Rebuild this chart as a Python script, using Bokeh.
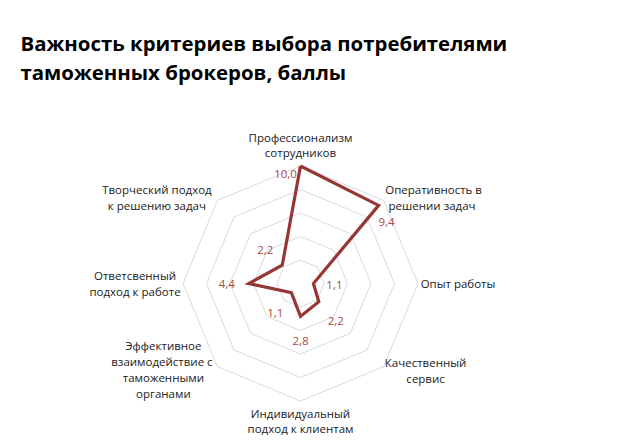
import math
from bokeh.plotting import figure
from bokeh.models import Range1d, Label, ColumnDataSource
from bokeh.embed import file_html
from bokeh.resources import INLINE
from bokeh.core.properties import value

# ---- data ----
categories = [
    "Профессионализм\nсотрудников",
    "Оперативность в\nрешении  задач",
    "Опыт работы",
    "Качественный\nсервис",
    "Индивидуальный\nподход к клиентам",
    "Эффективное\nвзаимодействие  с\nтаможенными\nорганами",
    "Ответсвенный\nподход к работе",
    "Творческий  подход\nк решению  задач",
]
scores = [10.0, 9.4, 1.1, 2.2, 2.8, 1.1, 4.4, 2.2]
score_labels = ["10,0", "9,4", "1,1", "2,2", "2,8", "1,1", "4,4", "2,2"]
ring_levels = [2, 4, 6, 8, 10]
title_lines = ["Важность критериев выбора потребителями", "таможенных брокеров, баллы"]

# ---- style / layout ----
W, H = 625, 444
CX, CY = 300, 283          # centre in canvas pixels
S = 11.75                  # pixels per score unit
LINE_COLOR = "#953735"
LABEL_COLOR = "#A84846"
GRID_COLOR = "#D9D9D9"
FONT = "Open Sans"
value_offsets = [(-15, 8), (8, 17), (21, 1), (17, 19), (0, 25), (-16, 20), (-22, 0), (-17, -15)]
cat_offsets = [(0, -21), (50, -3), (40, 0), (42, 4), (0, 20), (-54, 3), (-48, 0), (-59, -2.5)]

p = figure(width=W, height=H, output_backend="svg", toolbar_location=None,
           x_range=Range1d(-CX / S, (W - CX) / S),
           y_range=Range1d(-(H - CY) / S, CY / S),
           min_border=0, outline_line_color=None)
p.axis.visible = False
p.grid.visible = False
p.background_fill_color = "white"

n = len(categories)
angles = [math.pi / 2 - 2 * math.pi * i / n for i in range(n)]

# grid rings
for lv in ring_levels:
    xs = [lv * math.cos(a) for a in angles] + [lv * math.cos(angles[0])]
    ys = [lv * math.sin(a) for a in angles] + [lv * math.sin(angles[0])]
    p.line(xs, ys, line_color=GRID_COLOR, line_width=1)

# data polygon
px = [v * math.cos(a) for v, a in zip(scores, angles)]
py = [v * math.sin(a) for v, a in zip(scores, angles)]
p.line(px + [px[0]], py + [py[0]], line_color=LINE_COLOR, line_width=3.2,
       line_join="miter")

# value labels
src = ColumnDataSource(dict(x=px, y=py, t=score_labels,
                            dx=[o[0] for o in value_offsets],
                            dy=[o[1] for o in value_offsets]))
p.text(x="x", y="y", text="t", x_offset="dx", y_offset="dy", source=src,
       text_font=value(FONT), text_font_size="11.5px", text_color=LABEL_COLOR,
       text_align="center", text_baseline="middle")

# category labels
top = max(ring_levels)
cx_ = [top * math.cos(a) for a in angles]
cy_ = [top * math.sin(a) for a in angles]
csrc = ColumnDataSource(dict(x=cx_, y=cy_, t=categories,
                             dx=[o[0] for o in cat_offsets],
                             dy=[o[1] for o in cat_offsets]))
p.text(x="x", y="y", text="t", x_offset="dx", y_offset="dy", source=csrc,
       text_font=value(FONT), text_font_size="11.5px", text_color="#1a1a1a",
       text_align="center", text_baseline="middle", text_line_height=1.06)

# title
for i, line in enumerate(title_lines):
    p.add_layout(Label(x=20, y=H - 42.5 - 28.5 * i, x_units="screen", y_units="screen",
                       text=line, text_font=FONT, text_font_size="20.4px",
                       text_font_style="bold", text_color="black",
                       text_baseline="alphabetic"))

open("out.html", "w").write(file_html(p, INLINE))
